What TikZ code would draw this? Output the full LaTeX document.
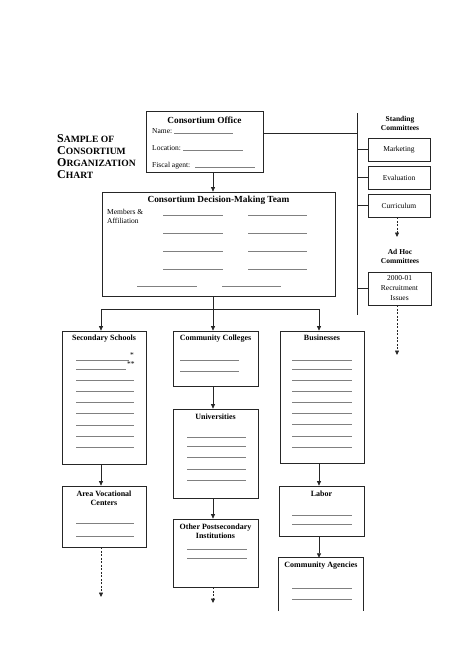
\documentclass[tikz,border=0pt]{standalone}
\usepackage{fontspec}
\setmainfont{Liberation Serif}
\usetikzlibrary{arrows.meta,positioning,calc}

\newcommand{\capword}[2]{{\fontsize{12}{14}\selectfont #1}{\fontsize{9.6}{14}\selectfont #2}}

\begin{document}
\begin{tikzpicture}[
    x=1pt, y=-1pt,
    frame/.style={draw=black!85, line width=0.7pt, inner sep=0pt},
    head/.style={font=\fontsize{8}{9}\selectfont\bfseries, align=center, inner sep=0pt},
    bighead/.style={font=\fontsize{9.3}{11}\selectfont\bfseries, inner sep=0pt},
    txt/.style={font=\fontsize{7.5}{9.5}\selectfont, align=center, inner sep=0pt},
    blank/.style={draw=black!50, line width=0.55pt},
    link/.style={draw=black!85, line width=0.75pt},
    arrow/.style={link, -{Triangle[length=4.5pt,width=4pt]}},
    dasharrow/.style={arrow, dash pattern=on 2pt off 1.5pt}
  ]
  \useasboundingbox (0,0) rectangle (474,669);

  % title
  \node[anchor=west, align=left, inner sep=0pt, font=\bfseries] (title) at (57,157)
    {\capword{S}{AMPLE OF}\\\capword{C}{ONSORTIUM}\\\capword{O}{RGANIZATION}\\\capword{C}{HART}};

  % consortium office
  \node[frame, minimum width=117pt, minimum height=61pt] (office) at (204.5,141.5) {};
  \node[bighead] (officehead) at (204.5,120) {Consortium Office};
  \node[txt, anchor=base west] (name) at (152,133) {Name:};
  \node[txt, anchor=base west] (location) at (152,150) {Location:};
  \node[txt, anchor=base west] (fiscal) at (152,167) {Fiscal agent:};
  \draw[blank] (174,133) -- (233,133);
  \draw[blank] (183,150) -- (243,150);
  \draw[blank] (195,167) -- (255,167);

  % decision-making team
  \node[frame, minimum width=233pt, minimum height=104pt] (team) at (218.5,244) {};
  \node[bighead] (teamhead) at (218.5,200) {Consortium Decision-Making Team};
  \node[txt, anchor=west, align=left] (members) at (107,216.5) {Members \&\\Affiliation};
  \foreach \y in {215,233,251,269} {
    \draw[blank] (163,\y) -- (223,\y);
    \draw[blank] (248,\y) -- (307,\y);
  }
  \draw[blank] (137,286) -- (197,286);
  \draw[blank] (222,286) -- (281,286);

  % committees
  \coordinate (spinetop) at (357,113);
  \coordinate (spinebot) at (357,315);
  \node[head, font=\fontsize{7.5}{9}\selectfont\bfseries] (standing) at (400,123.5) {Standing\\Committees};
  \node[frame, txt, minimum width=62pt, minimum height=23pt] (marketing) at (399,149.5) {Marketing};
  \node[frame, txt, minimum width=62pt, minimum height=23pt] (evaluation) at (399,177.5) {Evaluation};
  \node[frame, txt, minimum width=62pt, minimum height=23pt] (curriculum) at (399,205.5) {Curriculum};
  \node[head, font=\fontsize{7.5}{9}\selectfont\bfseries] (adhochead) at (400,256.5) {Ad Hoc\\Committees};
  \node[frame, txt, font=\fontsize{7.5}{10}\selectfont, minimum width=63pt, minimum height=33pt] (adhoc) at (399.5,288.5) {2000-01\\Recruitment\\Issues};
  \coordinate (curend) at (397,237);
  \coordinate (adhocend) at (397,355);

  % secondary schools
  \node[frame, minimum width=84pt, minimum height=133pt] (secondary) at (104,397.5) {};
  \node[head] (secondaryhead) at (104,339) {Secondary Schools};
  \draw[blank] (76,360) -- (129,360);
  \draw[blank] (76,369) -- (126,369);
  \node[txt, anchor=west] (star1) at (130,355) {*};
  \node[txt, anchor=west] (star2) at (127,364) {**};
  \foreach \y in {380,391,402,413,425,436.5,447.5}
    \draw[blank] (76,\y) -- (134,\y);

  % area vocational centers
  \node[frame, minimum width=84pt, minimum height=61pt] (vocational) at (104,516.5) {};
  \node[head] (vocationalhead) at (104,498) {Area Vocational\\Centers};
  \draw[blank] (76,523) -- (134,523);
  \draw[blank] (76,536) -- (134,536);
  \coordinate (vocend) at (101,597);

  % community colleges
  \node[frame, minimum width=85pt, minimum height=55pt] (colleges) at (215.5,358.5) {};
  \node[head] (collegeshead) at (215.5,339) {Community Colleges};
  \draw[blank] (180,360) -- (239,360);
  \draw[blank] (180,371) -- (239,371);

  % universities
  \node[frame, minimum width=85pt, minimum height=89pt] (universities) at (215.5,453.5) {};
  \node[head] (universitieshead) at (215.5,417) {Universities};
  \foreach \y in {437,446,457,469,480}
    \draw[blank] (187,\y) -- (246,\y);

  % other postsecondary
  \node[frame, minimum width=85pt, minimum height=68pt] (otherpost) at (215.5,553) {};
  \node[head] (otherposthead) at (215.5,531.5) {Other Postsecondary\\Institutions};
  \draw[blank] (187,549) -- (247,549);
  \draw[blank] (187,558) -- (247,558);
  \coordinate (otherend) at (213,603);

  % businesses
  \node[frame, minimum width=84pt, minimum height=132pt] (businesses) at (322,397) {};
  \node[head] (businesseshead) at (322,338) {Businesses};
  \foreach \y in {360,369,380,391,402,413,424,436,447}
    \draw[blank] (292,\y) -- (352,\y);

  % labor
  \node[frame, minimum width=85pt, minimum height=50pt] (labor) at (321.5,511) {};
  \node[head] (laborhead) at (321.5,494) {Labor};
  \draw[blank] (292,515) -- (352,515);
  \draw[blank] (292,524) -- (352,524);

  % community agencies (open at the bottom)
  \node[minimum width=84pt, minimum height=53pt, inner sep=0pt] (agencies) at (321,584.5) {};
  \draw[link] (agencies.south west) |- (agencies.north) -| (agencies.south east);
  \node[head] (agencieshead) at (321,566) {Community Agencies};
  \draw[blank] (292,588) -- (352,588);
  \draw[blank] (292,599) -- (352,599);

  % connectors
  \draw[arrow] ([xshift=8.5pt]office.south) -- ([xshift=8.5pt]office.south |- team.north);
  \draw[link] (spinetop) -- (spinebot);
  \draw[link] ([yshift=8.5pt]office.east) -- ([yshift=8.5pt]office.east -| spinetop);
  \draw[link] (marketing.west -| spinetop) -- (marketing.west);
  \draw[link] (evaluation.west -| spinetop) -- (evaluation.west);
  \draw[link] (curriculum.west -| spinetop) -- (curriculum.west);
  \draw[link] (adhoc.west -| spinetop) -- (adhoc.west);
  \draw[dasharrow] ([xshift=-2pt]curriculum.south) -- (curend);
  \draw[dasharrow] ([xshift=-2.5pt]adhoc.south) -- (adhocend);

  \coordinate (bus) at (213,309);
  \draw[link] ([xshift=-5.5pt]team.south) -- (bus);
  \draw[arrow] (bus) -| ([xshift=-3pt]secondary.north);
  \draw[arrow] (bus) -| ([xshift=-3pt]businesses.north);
  \draw[arrow] (bus) -- ([xshift=-2.5pt]colleges.north);

  \draw[arrow] ([xshift=-3pt]secondary.south) -- ([xshift=-3pt]vocational.north);
  \draw[dasharrow] ([xshift=-3pt]vocational.south) -- (vocend);
  \draw[arrow] ([xshift=-2.5pt]colleges.south) -- ([xshift=-2.5pt]universities.north);
  \draw[arrow] ([xshift=-2.5pt]universities.south) -- ([xshift=-2.5pt]otherpost.north);
  \draw[dasharrow] ([xshift=-2.5pt]otherpost.south) -- (otherend);
  \draw[arrow] ([xshift=-3pt]businesses.south) -- ([xshift=-3pt]businesses.south |- labor.north);
  \draw[arrow] ([xshift=-2.5pt]labor.south) -- ([xshift=-2.5pt]labor.south |- agencies.north);

\end{tikzpicture}
\end{document}
